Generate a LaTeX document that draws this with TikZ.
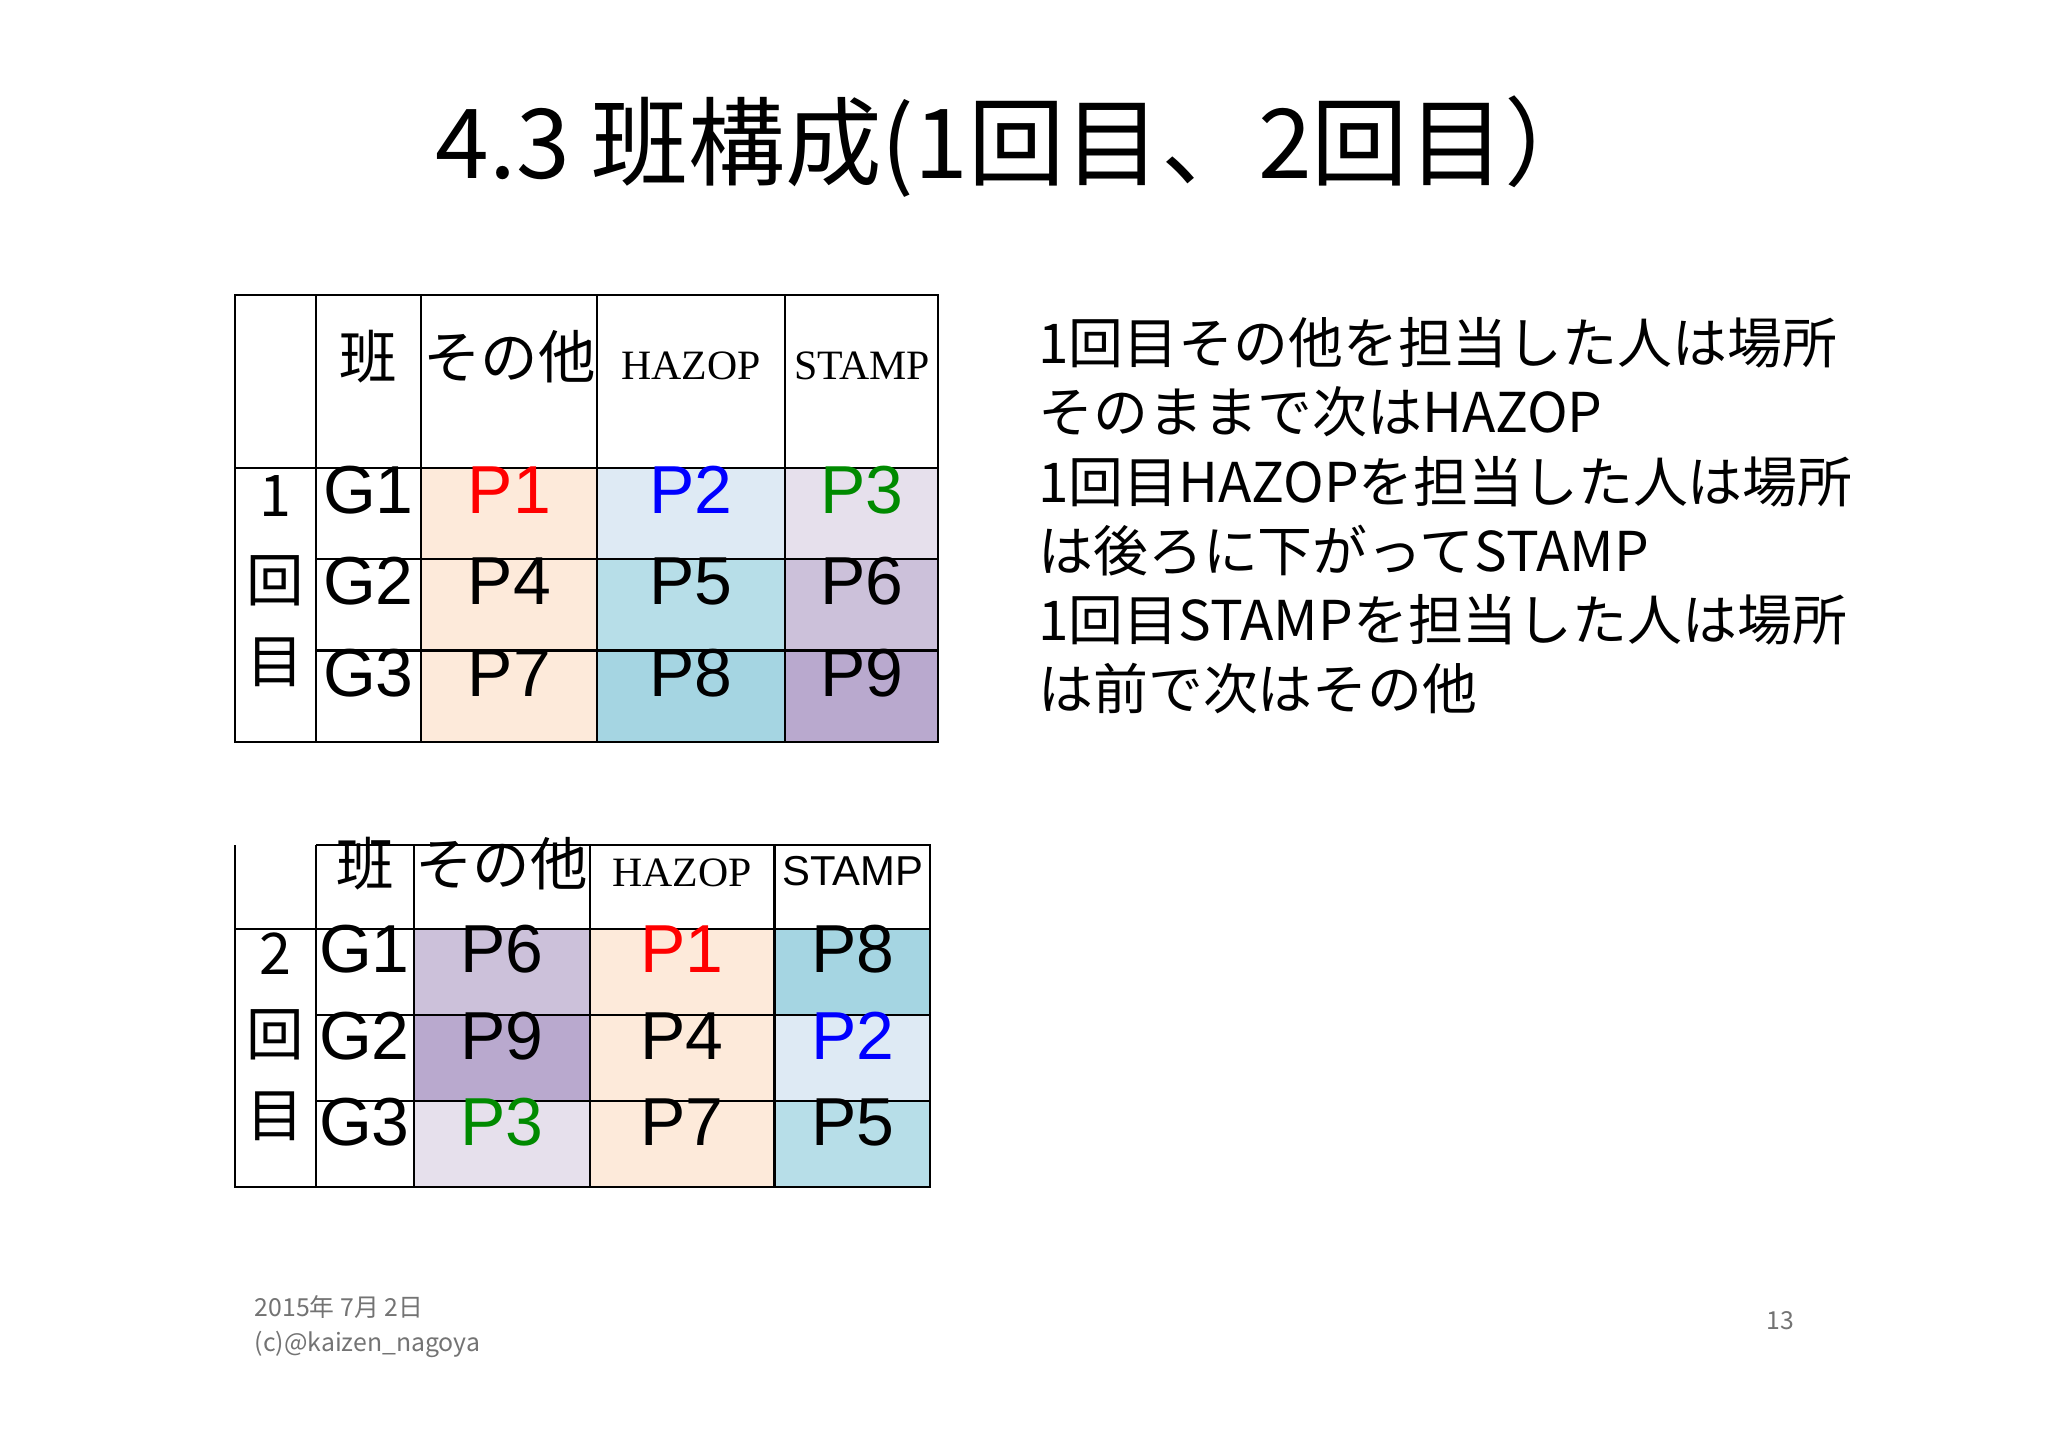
\documentclass[tikz,border=0pt]{standalone}
\usepackage{fontspec}
\setmainfont{Liberation Sans}
\newfontfamily\jp{Noto Sans CJK JP}
\newfontfamily\tms{Liberation Serif}
\definecolor{or}{HTML}{FDEADA}
\definecolor{ba}{HTML}{DEEAF4}
\definecolor{bb}{HTML}{B7DEE8}
\definecolor{bc}{HTML}{A5D5E2}
\definecolor{va}{HTML}{E6E0EC}
\definecolor{vb}{HTML}{CCC1DA}
\definecolor{vc}{HTML}{B9A9CE}
\definecolor{gr}{HTML}{008A00}
\begin{document}
\begin{tikzpicture}[x=0.5pt,y=-0.5pt,
  cell/.style={font=\fontsize{26}{28}\selectfont},
  hd/.style={font=\jp\fontsize{22}{24}\selectfont},
  hs/.style={font=\tms\fontsize{16}{18}\selectfont},
  ln/.style={line width=0.8pt}]
\useasboundingbox (0,0) rectangle (1568,1108);
\node (title) at (780,112) {\jp\fontsize{37}{40}\selectfont 4.3 班構成(1回目、2回目）};
% table 1 fills
\fill[or] (322,358) rectangle (457,568);
\fill[ba] (457,358) rectangle (601,428);
\fill[bb] (457,428) rectangle (601,498);
\fill[bc] (457,498) rectangle (601,568);
\fill[va] (601,358) rectangle (718,428);
\fill[vb] (601,428) rectangle (718,498);
\fill[vc] (601,498) rectangle (718,568);
\draw[ln] (180,226) rectangle (718,568);
\foreach \x in {242,322,457,601} \draw[ln] (\x,226) -- (\x,568);
\draw[ln] (180,358) -- (718,358);
\foreach \y in {428,498} \draw[ln] (242,\y) -- (718,\y);
\node[hd] (a1) at (282,273) {班};
\node[hd] (a2) at (390,273) {その他};
\node[hs] (a3) at (529,280) {HAZOP};
\node[hs] (a4) at (660,280) {STAMP};
\node[hd] (r1) at (211,380) {1};
\node[hd] (r2) at (211,445) {回};
\node[hd] (r3) at (211,507) {目};
\foreach \t/\x/\y/\c in {G1/282/375/black,G2/282/445/black,G3/282/515/black,
 P1/390/375/red,P4/390/445/black,P7/390/515/black,
 P2/529/375/blue,P5/529/445/black,P8/529/515/black,
 P3/660/375/gr,P6/660/445/black,P9/660/515/black}
 \node[cell,text=\c] (t1\t) at (\x,\y) {\t};
% table 2 fills
\fill[vb] (317,711) rectangle (452,777);
\fill[vc] (317,777) rectangle (452,843);
\fill[va] (317,843) rectangle (452,909);
\fill[or] (452,711) rectangle (593,909);
\fill[bc] (593,711) rectangle (712,777);
\fill[ba] (593,777) rectangle (712,843);
\fill[bb] (593,843) rectangle (712,909);
\draw[ln] (180,647) -- (180,909) -- (712,909) -- (712,647) -- (242,647);
\foreach \x in {242,317,452,593} \draw[ln] (\x,647) -- (\x,909);
\draw[ln] (180,711) -- (712,711);
\foreach \y in {777,843} \draw[ln] (242,\y) -- (712,\y);
\node[hd] (b1) at (280,661) {班};
\node[hd] (b2) at (384,661) {その他};
\node[hs] (b3) at (522,668) {HAZOP};
\node[font=\fontsize{16}{18}\selectfont] (b4) at (653,667) {STAMP};
\node[hd] (s1) at (211,730) {2};
\node[hd] (s2) at (211,792) {回};
\node[hd] (s3) at (211,855) {目};
\foreach \t/\x/\y/\c in {G1/279/727/black,G2/279/793/black,G3/279/859/black,
 P6/384/727/black,P9/384/793/black,P3/384/859/gr,
 P1/522/727/red,P4/522/793/black,P7/522/859/black,
 P8/653/727/black,P2/653/793/blue,P5/653/859/black}
 \node[cell,text=\c] (t2\t) at (\x,\y) {\t};
\node[anchor=north west,align=left,font=\jp\fontsize{21}{26.5}\selectfont] (txt) at (788,236)
 {1回目その他を担当した人は場所\\そのままで次はHAZOP\\1回目HAZOPを担当した人は場所\\は後ろに下がってSTAMP\\1回目STAMPを担当した人は場所\\は前で次はその他};
\node[anchor=north west,align=left,text=black!55,font=\jp\fontsize{9.5}{13.5}\selectfont] (foot) at (188,985) {2015年 7月 2日\\(c)@kaizen\_nagoya};
\node[text=black!55,font=\jp\fontsize{9.5}{12}\selectfont] (pg) at (1363,1011) {13};
\end{tikzpicture}
\end{document}
